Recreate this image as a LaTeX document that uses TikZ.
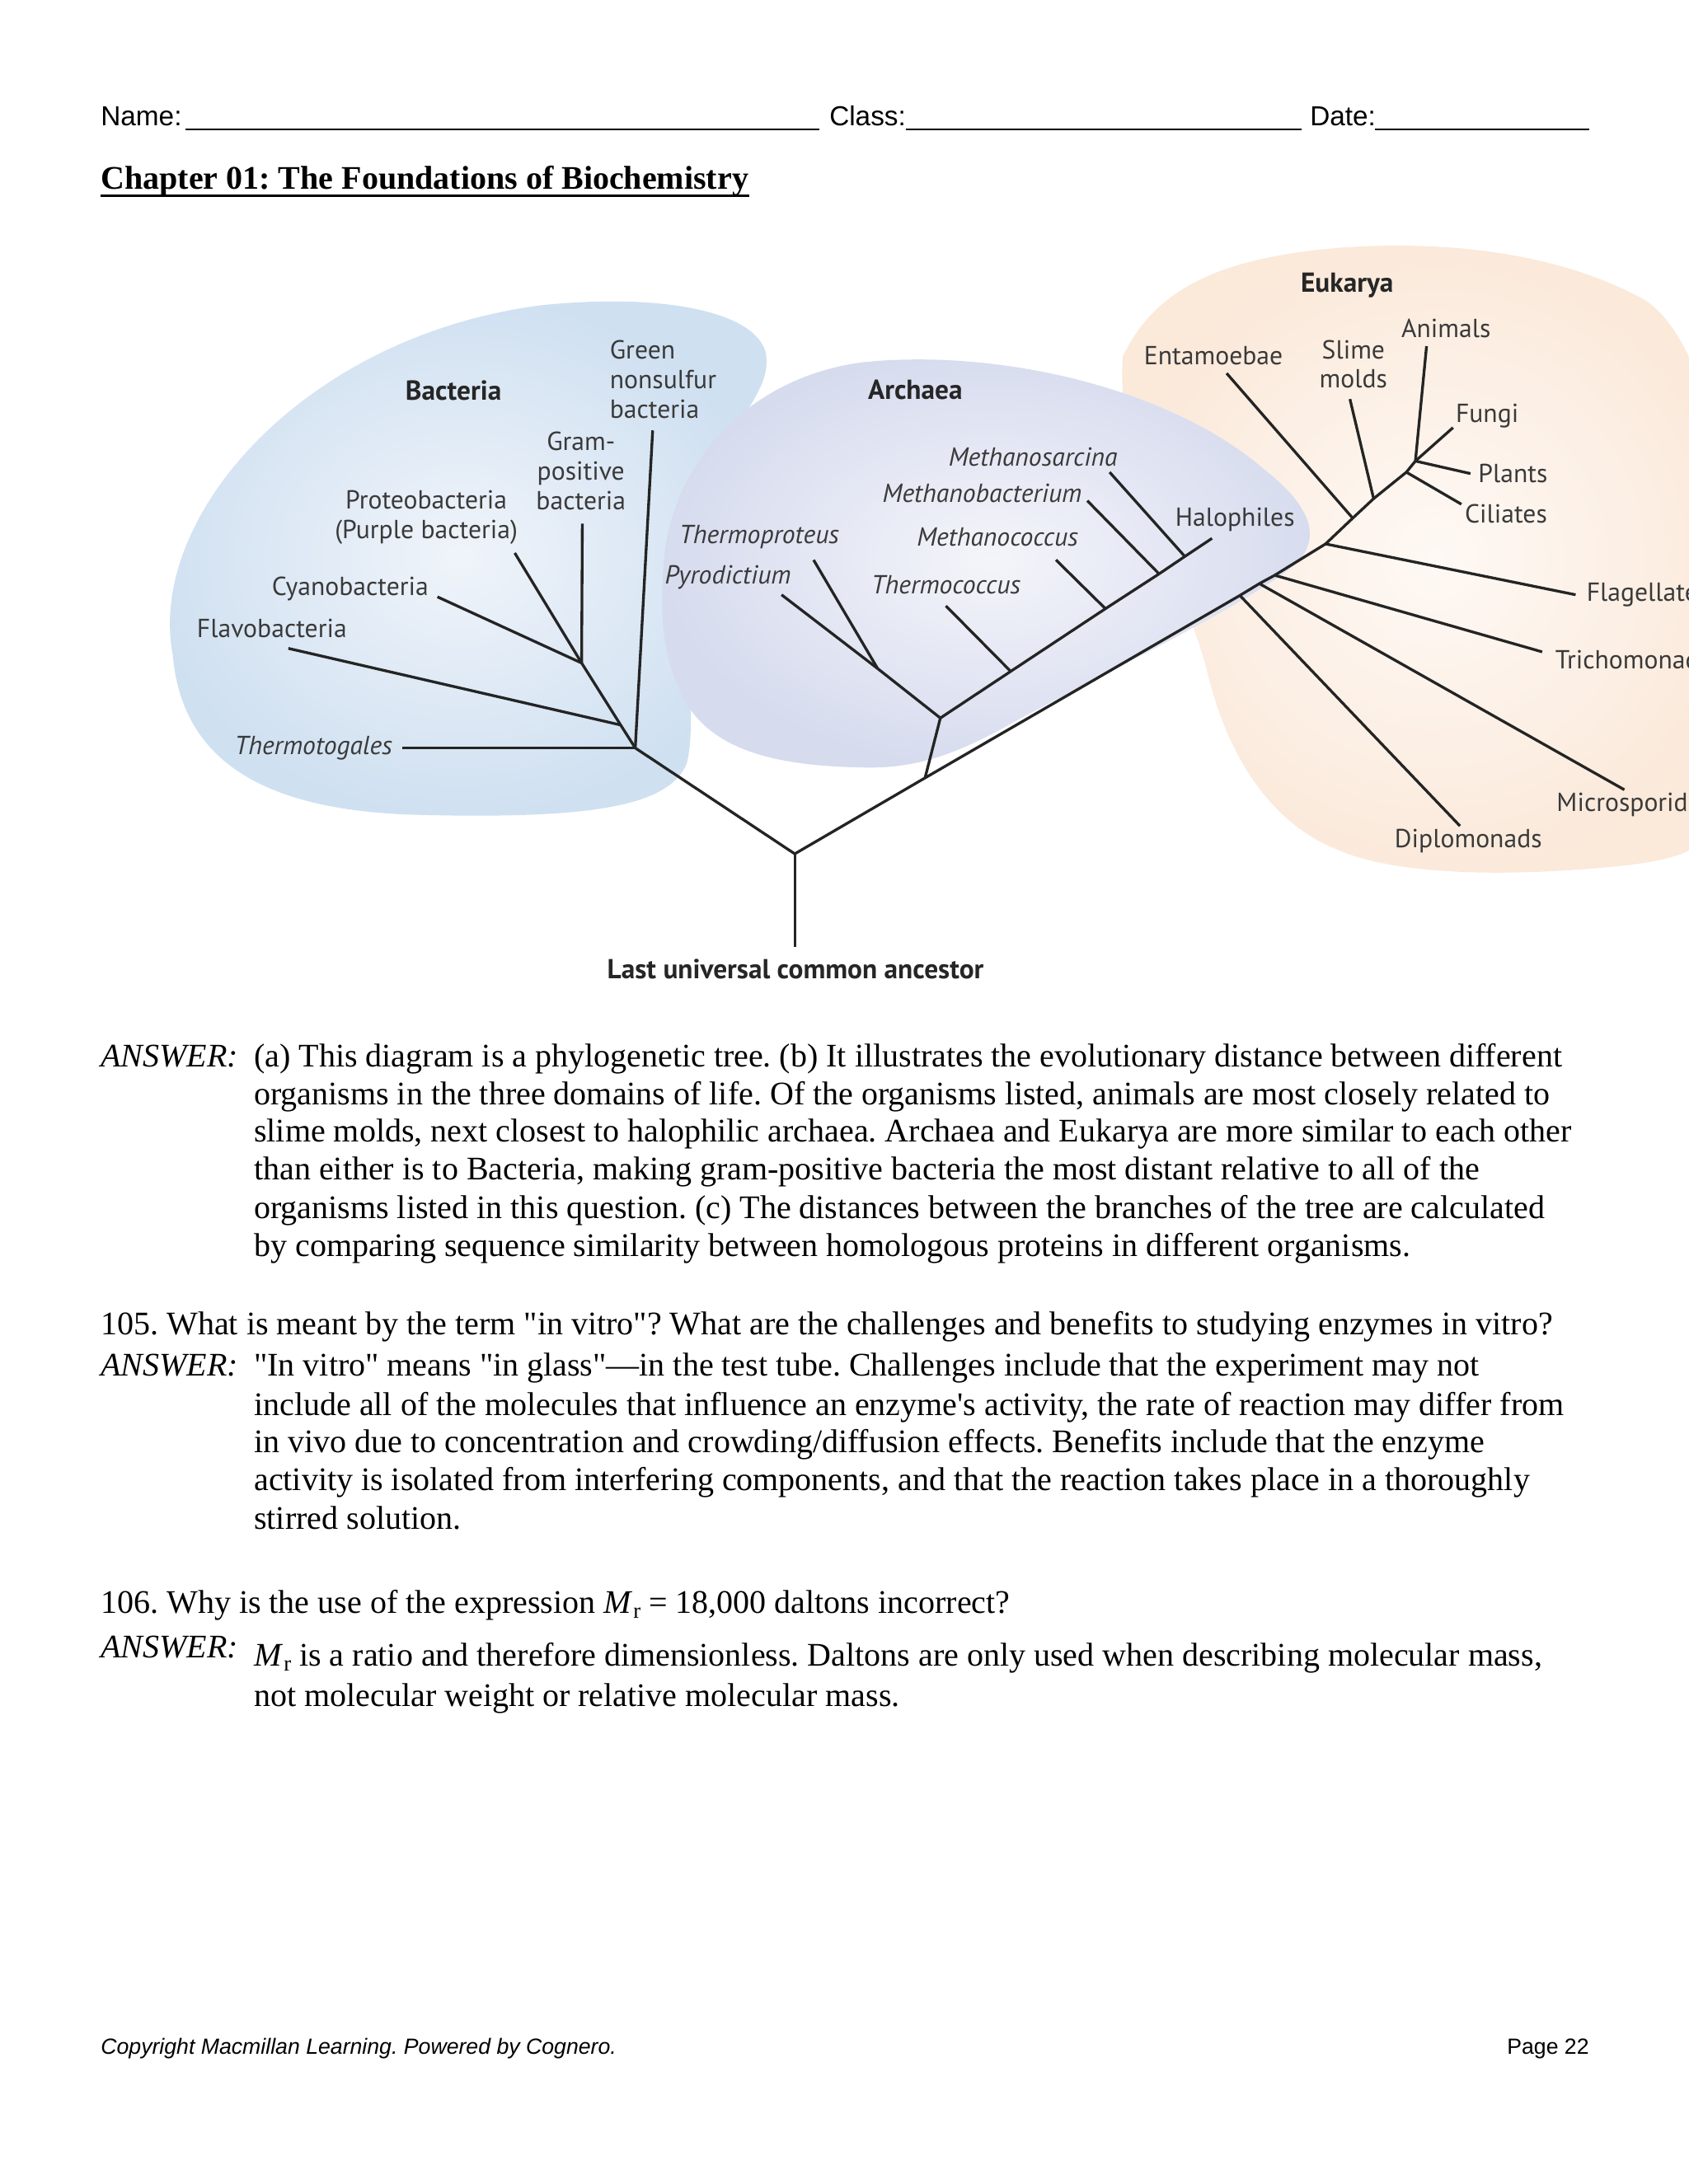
\documentclass[tikz,border=0pt]{standalone}
\usepackage{fontspec}
\setmainfont{Liberation Serif}[Ligatures=TeXOff]
\newfontfamily\arialf{Liberation Sans}
\newfontfamily\lblf{PT Sans}
\definecolor{lblc}{HTML}{3A3A3A}
\definecolor{domc}{HTML}{262626}
\definecolor{treec}{HTML}{242424}
\definecolor{bacIn}{HTML}{F0F4FA}
\definecolor{bacOut}{HTML}{CFE0F1}
\definecolor{arcIn}{HTML}{F4F5FA}
\definecolor{arcOut}{HTML}{D6DBEE}
\definecolor{eukIn}{HTML}{FEF9F5}
\definecolor{eukOut}{HTML}{FBE9DA}
\newcommand{\Mrx}{\textit{M}\kern0.3pt\raisebox{-0.35ex}{\fontsize{8}{8}\selectfont r}}
\frenchspacing
\begin{document}
\begin{tikzpicture}[x=0.50694pt, y=-0.50694pt,
  lbl/.style={font=\lblf\fontsize{9.5}{10.75}\selectfont, text=lblc, inner sep=0, align=center},
  ilbl/.style={font=\lblf\itshape\fontsize{9.5}{10.75}\selectfont, text=lblc, inner sep=0, align=center},
  dom/.style={font=\lblf\bfseries\fontsize{10}{12}\selectfont, text=domc, inner sep=0},
  branch/.style={draw=treec, line width=1pt, line join=round},
  body/.style={font=\frenchspacing\fontsize{12}{13.8}\selectfont, anchor=base west, inner sep=0},
  ans/.style={font=\itshape\fontsize{12}{13.8}\selectfont, anchor=base west, inner sep=0},
  head/.style={font=\arialf\fontsize{10}{12}\selectfont, anchor=base west, inner sep=0},
  uline/.style={draw=black, line width=0.75pt}
]
\useasboundingbox (0,0) rectangle (1212,1568);
\clip (0,0) rectangle (1212,1568);
\fill[white] (0,0) rectangle (1212,1568);

% ---------- header ----------
\node[head] (nm) at (72,90) {Name:};
\node[head] (cl) at (595,90) {Class:};
\node[head] (dt) at (940,90) {Date:};
\coordinate (n1) at (133,93); \coordinate (n2) at (588,93);
\coordinate (c1) at (650,93); \coordinate (c2) at (934,93);
\coordinate (d1) at (987,93); \coordinate (d2) at (1141,93);
\draw[uline] (n1) -- (n2);
\draw[uline] (c1) -- (c2);
\draw[uline] (d1) -- (d2);
\node[body, font=\frenchspacing\bfseries\fontsize{12}{13.8}\selectfont] (title) at (72,136) {Chapter 01: The Foundations of Biochemistry};
\draw[uline, line width=0.9pt] ([yshift=-2.2pt]title.base west) -- ([yshift=-2.2pt]title.base east);

% ---------- blobs ----------
\shade[inner color=eukIn, outer color=eukOut]
  (806,256) .. controls (830,205) and (880,185) .. (960,178)
  .. controls (1040,172) and (1120,182) .. (1180,215)
  .. controls (1230,245) and (1260,400) .. (1250,520)
  .. controls (1245,600) and (1230,615) .. (1160,622)
  .. controls (1080,630) and (1000,628) .. (960,610)
  .. controls (910,590) and (880,540) .. (866,480)
  .. controls (850,420) and (800,330) .. (806,256) -- cycle;
\shade[inner color=bacIn, outer color=bacOut]
  (124,470) .. controls (105,370) and (220,240) .. (390,219)
  .. controls (480,210) and (545,225) .. (550,255)
  .. controls (555,290) and (500,320) .. (495,400)
  .. controls (492,470) and (500,520) .. (493,548)
  .. controls (480,580) and (420,588) .. (300,585)
  .. controls (180,582) and (130,540) .. (124,470) -- cycle;
\shade[inner color=arcIn, outer color=arcOut]
  (476,410) .. controls (480,330) and (540,270) .. (620,260)
  .. controls (720,250) and (840,280) .. (905,335)
  .. controls (940,362) and (950,385) .. (930,405)
  .. controls (900,430) and (820,470) .. (732,516)
  .. controls (690,540) and (660,552) .. (620,551)
  .. controls (560,550) and (510,540) .. (490,500)
  .. controls (475,470) and (474,440) .. (476,410) -- cycle;

% ---------- tree coordinates ----------
\coordinate (root) at (570.5,613);
\coordinate (lucaend) at (570.5,680);
\coordinate (B) at (456,537);
\coordinate (Tend) at (289,537);
\coordinate (Gend) at (468.5,309);
\coordinate (FJ) at (445.5,520.5);
\coordinate (Fend) at (207,465.5);
\coordinate (GP) at (417.5,476);
\coordinate (GPend) at (418,376);
\coordinate (Pend) at (369.5,397);
\coordinate (Cend) at (314,428.5);
% trunk
\coordinate (AE) at (664,558.5);
\coordinate (Dj) at (890,427.5);
\coordinate (Mj) at (904,419);
\coordinate (Trj) at (915,413);
\coordinate (Flj) at (951.5,390.5);
\coordinate (Enj) at (971,372);
\coordinate (Slj) at (986,358);
\coordinate (Cij) at (1009.5,339);
\coordinate (Anj) at (1016,331);
% archaea
\coordinate (A1) at (675,515.5);
\coordinate (PTj) at (630,480);
\coordinate (Pyend) at (561,427);
\coordinate (Tpend) at (584,402);
\coordinate (Tcj) at (725.5,482);
\coordinate (Mcj) at (793.5,437);
\coordinate (Mbj) at (832,412);
\coordinate (Msj) at (850.5,399.5);
\coordinate (Haend) at (870,386.5);
\coordinate (Tcend) at (679,435);
\coordinate (Mcend) at (758,402);
\coordinate (Mbend) at (780.5,359.5);
\coordinate (Msend) at (796.5,339);
% eukarya ends
\coordinate (Diend) at (1048,593);
\coordinate (Miend) at (1166,567);
\coordinate (Trend) at (1107,468);
\coordinate (Flend) at (1131,427);
\coordinate (Enend) at (880.5,268);
\coordinate (Slend) at (969,286.5);
\coordinate (Anend) at (1024,248.5);
\coordinate (Fuend) at (1043,307);
\coordinate (Plend) at (1055.5,340);
\coordinate (Ciend) at (1049,362);

% ---------- tree branches ----------
\draw[branch] (lucaend) -- (root);
\draw[branch] (root) -- (B);
\draw[branch] (B) -- (Tend);
\draw[branch] (B) -- (Gend);
\draw[branch] (B) -- (FJ) -- (GP);
\draw[branch] (FJ) -- (Fend);
\draw[branch] (GP) -- (GPend);
\draw[branch] (GP) -- (Pend);
\draw[branch] (GP) -- (Cend);
\draw[branch] (root) -- (AE) -- (Dj) -- (Mj) -- (Trj) -- (Flj) -- (Enj) -- (Slj) -- (Cij) -- (Anj);
\draw[branch] (AE) -- (A1);
\draw[branch] (A1) -- (PTj);
\draw[branch] (PTj) -- (Pyend);
\draw[branch] (PTj) -- (Tpend);
\draw[branch] (A1) -- (Tcj) -- (Mcj) -- (Mbj) -- (Msj) -- (Haend);
\draw[branch] (Tcj) -- (Tcend);
\draw[branch] (Mcj) -- (Mcend);
\draw[branch] (Mbj) -- (Mbend);
\draw[branch] (Msj) -- (Msend);
\draw[branch] (Dj) -- (Diend);
\draw[branch] (Mj) -- (Miend);
\draw[branch] (Trj) -- (Trend);
\draw[branch] (Flj) -- (Flend);
\draw[branch] (Enj) -- (Enend);
\draw[branch] (Slj) -- (Slend);
\draw[branch] (Anj) -- (Anend);
\draw[branch] (Anj) -- (Fuend);
\draw[branch] (Anj) -- (Plend);
\draw[branch] (Cij) -- (Ciend);

% ---------- labels ----------
\node[dom] (lBac) at (325.5,280.5) {Bacteria};
\node[dom] (lArc) at (657,280) {Archaea};
\node[dom] (lEuk) at (967,205) {Eukarya};
\node[dom] (lLuca) at (571,696) {Last universal common ancestor};
\node[lbl, align=left] (lGreen) at (476,272.6) {Green\\nonsulfur\\bacteria};
\node[lbl] (lGram) at (417,338) {Gram-\\positive\\bacteria};
\node[lbl] (lProt) at (306,371.5) {Proteobacteria\\(Purple bacteria)};
\node[lbl, anchor=east] (lCyan) at (308,423) {Cyanobacteria};
\node[lbl, anchor=west] (lFlav) at (141,451) {Flavobacteria};
\node[ilbl, anchor=east] (lTmt) at (282,537) {Thermotogales};
\node[ilbl] (lMsa) at (741.5,328) {Methanosarcina};
\node[ilbl] (lMba) at (705,354) {Methanobacterium};
\node[ilbl] (lTpr) at (545,385.5) {Thermoproteus};
\node[ilbl] (lPyr) at (522.5,414.5) {Pyrodictium};
\node[ilbl] (lMco) at (716,385.5) {Methanococcus};
\node[ilbl] (lTco) at (679,420) {Thermococcus};
\node[lbl] (lHal) at (886.5,373) {Halophiles};
\node[lbl] (lEnt) at (871,255.5) {Entamoebae};
\node[lbl] (lSli) at (971.5,261.5) {Slime\\molds};
\node[lbl] (lAni) at (1038,235.5) {Animals};
\node[lbl] (lFun) at (1067.5,298.5) {Fungi};
\node[lbl] (lPla) at (1086,340) {Plants};
\node[lbl] (lCil) at (1081,369) {Ciliates};
\node[lbl, anchor=west] (lFla) at (1138.5,427) {Flagellates};
\node[lbl, anchor=west] (lTri) at (1116,473.5) {Trichomonads};
\node[lbl, anchor=west] (lMic) at (1117,577.5) {Microsporidia};
\node[lbl] (lDip) at (1054,604) {Diplomonads};

% ---------- body text ----------
\node[ans] (a1) at (72,766) {ANSWER:};
\node[body] (t1) at (182,766) {(a) This diagram is a phylogenetic tree. (b) It illustrates the evolutionary distance between different};
\node[body] (t2) at (182,793) {organisms in the three domains of life. Of the organisms listed, animals are most closely related to};
\node[body] (t3) at (182,820) {slime molds, next closest to halophilic archaea. Archaea and Eukarya are more similar to each other};
\node[body] (t4) at (182,847) {than either is to Bacteria, making gram-positive bacteria the most distant relative to all of the};
\node[body] (t5) at (182,875) {organisms listed in this question. (c) The distances between the branches of the tree are calculated};
\node[body] (t6) at (182,902) {by comparing sequence similarity between homologous proteins in different organisms.};

\node[body] (q105) at (72,958) {105. What is meant by the term "in vitro"? What are the challenges and benefits to studying enzymes in vitro?};
\node[ans] (a2) at (72,988) {ANSWER:};
\node[body] (u1) at (182,988) {"In vitro" means "in glass"—in the test tube. Challenges include that the experiment may not};
\node[body] (u2) at (182,1016) {include all of the molecules that influence an enzyme's activity, the rate of reaction may differ from};
\node[body] (u3) at (182,1043) {in vivo due to concentration and crowding/diffusion effects. Benefits include that the enzyme};
\node[body] (u4) at (182,1070) {activity is isolated from interfering components, and that the reaction takes place in a thoroughly};
\node[body] (u5) at (182,1098) {stirred solution.};

\node[body] (q106) at (72,1158) {106. Why is the use of the expression \Mrx{} = 18,000 daltons incorrect?};
\node[ans] (a3) at (72,1190) {ANSWER:};
\node[body] (v1) at (182,1196) {\Mrx{} is a ratio and therefore dimensionless. Daltons are only used when describing molecular mass,};
\node[body] (v2) at (182,1225) {not molecular weight or relative molecular mass.};

% ---------- footer ----------
\node[head, font=\arialf\itshape\fontsize{8}{10}\selectfont] (foot) at (72,1475) {Copyright Macmillan Learning. Powered by Cognero.};
\node[head, anchor=base east, font=\arialf\fontsize{8}{10}\selectfont] (page) at (1141,1475) {Page 22};
\end{tikzpicture}
\end{document}
